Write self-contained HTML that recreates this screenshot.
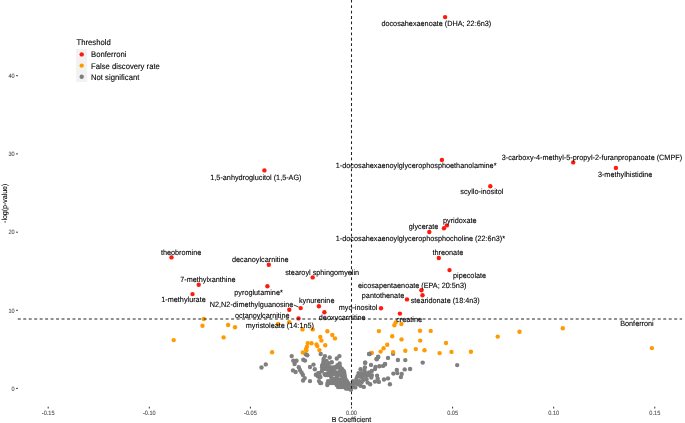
<!DOCTYPE html>
<html><head><meta charset="utf-8"><title>Volcano plot</title>
<style>
html,body{margin:0;padding:0;background:#fff;}
svg{display:block;font-family:"Liberation Sans",sans-serif;text-rendering:geometricPrecision;}
.lab{font-size:7.63px;fill:#000;stroke:#000;stroke-width:0.1px;}
.tick{font-size:6.27px;fill:#4d4d4d;stroke:#4d4d4d;stroke-width:0.1px;}
.leg{font-size:8.09px;fill:#000;stroke:#000;stroke-width:0.1px;}
.axt{font-size:7.35px;fill:#000;stroke:#000;stroke-width:0.1px;}
</style></head><body>
<svg width="685" height="423" viewBox="0 0 685 423">
<rect width="685" height="423" fill="#fff"/>
<g>
<circle cx="261.5" cy="367.5" r="2.2" fill="#7f7f7f"/>
<circle cx="265.8" cy="364.4" r="2.2" fill="#7f7f7f"/>
<circle cx="291.7" cy="356.1" r="2.2" fill="#7f7f7f"/>
<circle cx="293.3" cy="360.8" r="2.2" fill="#7f7f7f"/>
<circle cx="296.5" cy="360.8" r="2.2" fill="#7f7f7f"/>
<circle cx="294.6" cy="364.0" r="2.2" fill="#7f7f7f"/>
<circle cx="293.0" cy="370.4" r="2.2" fill="#7f7f7f"/>
<circle cx="295.6" cy="372.0" r="2.2" fill="#7f7f7f"/>
<circle cx="298.8" cy="367.2" r="2.2" fill="#7f7f7f"/>
<circle cx="299.9" cy="369.9" r="2.2" fill="#7f7f7f"/>
<circle cx="301.5" cy="372.5" r="2.2" fill="#7f7f7f"/>
<circle cx="302.9" cy="374.9" r="2.2" fill="#7f7f7f"/>
<circle cx="304.7" cy="378.1" r="2.2" fill="#7f7f7f"/>
<circle cx="303.1" cy="380.5" r="2.2" fill="#7f7f7f"/>
<circle cx="310.0" cy="381.1" r="2.2" fill="#7f7f7f"/>
<circle cx="303.3" cy="359.8" r="2.2" fill="#7f7f7f"/>
<circle cx="305.0" cy="360.6" r="2.2" fill="#7f7f7f"/>
<circle cx="305.7" cy="354.2" r="2.2" fill="#7f7f7f"/>
<circle cx="307.3" cy="355.3" r="2.2" fill="#7f7f7f"/>
<circle cx="310.0" cy="367.0" r="2.2" fill="#7f7f7f"/>
<circle cx="313.5" cy="364.6" r="2.2" fill="#7f7f7f"/>
<circle cx="314.8" cy="369.3" r="2.2" fill="#7f7f7f"/>
<circle cx="315.9" cy="374.7" r="2.2" fill="#7f7f7f"/>
<circle cx="318.0" cy="376.3" r="2.2" fill="#7f7f7f"/>
<circle cx="369.4" cy="353.9" r="2.2" fill="#7f7f7f"/>
<circle cx="393.1" cy="353.8" r="2.2" fill="#7f7f7f"/>
<circle cx="378.2" cy="356.8" r="2.2" fill="#7f7f7f"/>
<circle cx="376.6" cy="358.9" r="2.2" fill="#7f7f7f"/>
<circle cx="388.0" cy="357.9" r="2.2" fill="#7f7f7f"/>
<circle cx="397.9" cy="360.0" r="2.2" fill="#7f7f7f"/>
<circle cx="365.2" cy="362.8" r="2.2" fill="#7f7f7f"/>
<circle cx="371.0" cy="364.9" r="2.2" fill="#7f7f7f"/>
<circle cx="385.1" cy="364.0" r="2.2" fill="#7f7f7f"/>
<circle cx="383.0" cy="365.9" r="2.2" fill="#7f7f7f"/>
<circle cx="379.3" cy="366.2" r="2.2" fill="#7f7f7f"/>
<circle cx="375.5" cy="367.0" r="2.2" fill="#7f7f7f"/>
<circle cx="375.0" cy="369.1" r="2.2" fill="#7f7f7f"/>
<circle cx="364.9" cy="367.4" r="2.2" fill="#7f7f7f"/>
<circle cx="360.6" cy="369.3" r="2.2" fill="#7f7f7f"/>
<circle cx="364.4" cy="370.4" r="2.2" fill="#7f7f7f"/>
<circle cx="358.5" cy="373.1" r="2.2" fill="#7f7f7f"/>
<circle cx="371.8" cy="370.9" r="2.2" fill="#7f7f7f"/>
<circle cx="369.1" cy="372.5" r="2.2" fill="#7f7f7f"/>
<circle cx="366.0" cy="373.1" r="2.2" fill="#7f7f7f"/>
<circle cx="365.4" cy="375.7" r="2.2" fill="#7f7f7f"/>
<circle cx="371.8" cy="375.2" r="2.2" fill="#7f7f7f"/>
<circle cx="371.3" cy="377.6" r="2.2" fill="#7f7f7f"/>
<circle cx="377.1" cy="375.7" r="2.2" fill="#7f7f7f"/>
<circle cx="377.7" cy="378.7" r="2.2" fill="#7f7f7f"/>
<circle cx="375.0" cy="381.6" r="2.2" fill="#7f7f7f"/>
<circle cx="378.9" cy="381.9" r="2.2" fill="#7f7f7f"/>
<circle cx="384.0" cy="379.5" r="2.2" fill="#7f7f7f"/>
<circle cx="388.0" cy="378.4" r="2.2" fill="#7f7f7f"/>
<circle cx="389.9" cy="384.2" r="2.2" fill="#7f7f7f"/>
<circle cx="393.4" cy="373.6" r="2.2" fill="#7f7f7f"/>
<circle cx="396.8" cy="369.9" r="2.2" fill="#7f7f7f"/>
<circle cx="397.3" cy="373.1" r="2.2" fill="#7f7f7f"/>
<circle cx="356.4" cy="378.9" r="2.2" fill="#7f7f7f"/>
<circle cx="362.2" cy="377.3" r="2.2" fill="#7f7f7f"/>
<circle cx="359.6" cy="381.1" r="2.2" fill="#7f7f7f"/>
<circle cx="363.3" cy="380.0" r="2.2" fill="#7f7f7f"/>
<circle cx="367.6" cy="382.6" r="2.2" fill="#7f7f7f"/>
<circle cx="370.2" cy="384.2" r="2.2" fill="#7f7f7f"/>
<circle cx="354.8" cy="383.2" r="2.2" fill="#7f7f7f"/>
<circle cx="358.0" cy="384.2" r="2.2" fill="#7f7f7f"/>
<circle cx="360.6" cy="385.8" r="2.2" fill="#7f7f7f"/>
<circle cx="363.8" cy="386.9" r="2.2" fill="#7f7f7f"/>
<circle cx="352.1" cy="386.9" r="2.2" fill="#7f7f7f"/>
<circle cx="355.3" cy="387.4" r="2.2" fill="#7f7f7f"/>
<circle cx="405.3" cy="360.1" r="2.2" fill="#7f7f7f"/>
<circle cx="422.7" cy="362.6" r="2.2" fill="#7f7f7f"/>
<circle cx="457.2" cy="365.1" r="2.2" fill="#7f7f7f"/>
<circle cx="404.7" cy="369.4" r="2.2" fill="#7f7f7f"/>
<circle cx="410.1" cy="369.0" r="2.2" fill="#7f7f7f"/>
<circle cx="401.7" cy="373.9" r="2.2" fill="#7f7f7f"/>
<circle cx="400.9" cy="377.1" r="2.2" fill="#7f7f7f"/>
<circle cx="376.7" cy="359.2" r="2.2" fill="#7f7f7f"/>
<circle cx="378.0" cy="357.2" r="2.2" fill="#7f7f7f"/>
<circle cx="369.4" cy="354.0" r="2.2" fill="#7f7f7f"/>
<circle cx="365.1" cy="362.8" r="2.2" fill="#7f7f7f"/>
<circle cx="384.8" cy="364.5" r="2.2" fill="#7f7f7f"/>
<circle cx="320.7" cy="354.0" r="2.2" fill="#7f7f7f"/>
<circle cx="324.9" cy="356.1" r="2.2" fill="#7f7f7f"/>
<circle cx="329.7" cy="357.5" r="2.2" fill="#7f7f7f"/>
<circle cx="339.4" cy="356.1" r="2.2" fill="#7f7f7f"/>
<circle cx="336.8" cy="358.5" r="2.2" fill="#7f7f7f"/>
<circle cx="323.6" cy="359.0" r="2.2" fill="#7f7f7f"/>
<circle cx="323.4" cy="361.7" r="2.2" fill="#7f7f7f"/>
<circle cx="323.1" cy="364.3" r="2.2" fill="#7f7f7f"/>
<circle cx="331.8" cy="362.2" r="2.2" fill="#7f7f7f"/>
<circle cx="328.9" cy="363.2" r="2.2" fill="#7f7f7f"/>
<circle cx="326.5" cy="360.9" r="2.2" fill="#7f7f7f"/>
<circle cx="339.6" cy="363.5" r="2.2" fill="#7f7f7f"/>
<circle cx="338.9" cy="365.6" r="2.2" fill="#7f7f7f"/>
<circle cx="336.8" cy="367.4" r="2.2" fill="#7f7f7f"/>
<circle cx="322.8" cy="367.2" r="2.2" fill="#7f7f7f"/>
<circle cx="322.2" cy="365.2" r="2.2" fill="#7f7f7f"/>
<circle cx="324.1" cy="364.4" r="2.2" fill="#7f7f7f"/>
<circle cx="326.4" cy="365.2" r="2.2" fill="#7f7f7f"/>
<circle cx="337.4" cy="365.2" r="2.2" fill="#7f7f7f"/>
<circle cx="339.3" cy="365.2" r="2.2" fill="#7f7f7f"/>
<circle cx="322.1" cy="367.2" r="2.2" fill="#7f7f7f"/>
<circle cx="327.8" cy="367.2" r="2.2" fill="#7f7f7f"/>
<circle cx="329.9" cy="367.2" r="2.2" fill="#7f7f7f"/>
<circle cx="331.9" cy="367.6" r="2.2" fill="#7f7f7f"/>
<circle cx="334.1" cy="367.2" r="2.2" fill="#7f7f7f"/>
<circle cx="336.1" cy="367.2" r="2.2" fill="#7f7f7f"/>
<circle cx="338.2" cy="367.2" r="2.2" fill="#7f7f7f"/>
<circle cx="340.3" cy="367.2" r="2.2" fill="#7f7f7f"/>
<circle cx="322.5" cy="369.2" r="2.2" fill="#7f7f7f"/>
<circle cx="324.4" cy="368.8" r="2.2" fill="#7f7f7f"/>
<circle cx="326.8" cy="369.1" r="2.2" fill="#7f7f7f"/>
<circle cx="328.8" cy="369.2" r="2.2" fill="#7f7f7f"/>
<circle cx="330.9" cy="369.2" r="2.2" fill="#7f7f7f"/>
<circle cx="333.0" cy="369.2" r="2.2" fill="#7f7f7f"/>
<circle cx="341.0" cy="369.2" r="2.2" fill="#7f7f7f"/>
<circle cx="342.3" cy="369.2" r="2.2" fill="#7f7f7f"/>
<circle cx="321.8" cy="371.2" r="2.2" fill="#7f7f7f"/>
<circle cx="329.8" cy="371.2" r="2.2" fill="#7f7f7f"/>
<circle cx="332.1" cy="371.2" r="2.2" fill="#7f7f7f"/>
<circle cx="334.5" cy="371.2" r="2.2" fill="#7f7f7f"/>
<circle cx="336.5" cy="372.6" r="2.2" fill="#7f7f7f"/>
<circle cx="339.6" cy="371.4" r="2.2" fill="#7f7f7f"/>
<circle cx="341.6" cy="371.2" r="2.2" fill="#7f7f7f"/>
<circle cx="343.9" cy="371.2" r="2.2" fill="#7f7f7f"/>
<circle cx="318.2" cy="373.1" r="2.2" fill="#7f7f7f"/>
<circle cx="319.1" cy="373.1" r="2.2" fill="#7f7f7f"/>
<circle cx="324.7" cy="374.2" r="2.2" fill="#7f7f7f"/>
<circle cx="327.3" cy="373.5" r="2.2" fill="#7f7f7f"/>
<circle cx="329.1" cy="373.1" r="2.2" fill="#7f7f7f"/>
<circle cx="331.3" cy="373.1" r="2.2" fill="#7f7f7f"/>
<circle cx="333.5" cy="373.1" r="2.2" fill="#7f7f7f"/>
<circle cx="335.6" cy="373.1" r="2.2" fill="#7f7f7f"/>
<circle cx="337.8" cy="373.1" r="2.2" fill="#7f7f7f"/>
<circle cx="340.0" cy="373.1" r="2.2" fill="#7f7f7f"/>
<circle cx="342.1" cy="373.1" r="2.2" fill="#7f7f7f"/>
<circle cx="344.3" cy="373.1" r="2.2" fill="#7f7f7f"/>
<circle cx="318.2" cy="375.1" r="2.2" fill="#7f7f7f"/>
<circle cx="319.4" cy="375.1" r="2.2" fill="#7f7f7f"/>
<circle cx="325.5" cy="375.1" r="2.2" fill="#7f7f7f"/>
<circle cx="327.6" cy="375.1" r="2.2" fill="#7f7f7f"/>
<circle cx="329.7" cy="375.1" r="2.2" fill="#7f7f7f"/>
<circle cx="331.7" cy="375.0" r="2.2" fill="#7f7f7f"/>
<circle cx="334.1" cy="373.8" r="2.2" fill="#7f7f7f"/>
<circle cx="336.2" cy="375.1" r="2.2" fill="#7f7f7f"/>
<circle cx="338.1" cy="374.9" r="2.2" fill="#7f7f7f"/>
<circle cx="340.5" cy="374.7" r="2.2" fill="#7f7f7f"/>
<circle cx="342.5" cy="375.1" r="2.2" fill="#7f7f7f"/>
<circle cx="344.6" cy="375.1" r="2.2" fill="#7f7f7f"/>
<circle cx="319.5" cy="377.1" r="2.2" fill="#7f7f7f"/>
<circle cx="320.4" cy="377.1" r="2.2" fill="#7f7f7f"/>
<circle cx="331.3" cy="377.2" r="2.2" fill="#7f7f7f"/>
<circle cx="336.9" cy="377.1" r="2.2" fill="#7f7f7f"/>
<circle cx="342.7" cy="377.1" r="2.2" fill="#7f7f7f"/>
<circle cx="344.9" cy="377.1" r="2.2" fill="#7f7f7f"/>
<circle cx="332.4" cy="379.1" r="2.2" fill="#7f7f7f"/>
<circle cx="334.6" cy="379.1" r="2.2" fill="#7f7f7f"/>
<circle cx="336.8" cy="379.1" r="2.2" fill="#7f7f7f"/>
<circle cx="338.9" cy="379.7" r="2.2" fill="#7f7f7f"/>
<circle cx="341.2" cy="379.1" r="2.2" fill="#7f7f7f"/>
<circle cx="343.4" cy="379.1" r="2.2" fill="#7f7f7f"/>
<circle cx="345.6" cy="379.1" r="2.2" fill="#7f7f7f"/>
<circle cx="319.0" cy="381.1" r="2.2" fill="#7f7f7f"/>
<circle cx="328.1" cy="381.1" r="2.2" fill="#7f7f7f"/>
<circle cx="330.5" cy="381.1" r="2.2" fill="#7f7f7f"/>
<circle cx="332.8" cy="381.1" r="2.2" fill="#7f7f7f"/>
<circle cx="335.2" cy="381.1" r="2.2" fill="#7f7f7f"/>
<circle cx="337.5" cy="381.1" r="2.2" fill="#7f7f7f"/>
<circle cx="339.9" cy="381.1" r="2.2" fill="#7f7f7f"/>
<circle cx="342.2" cy="381.1" r="2.2" fill="#7f7f7f"/>
<circle cx="344.6" cy="381.1" r="2.2" fill="#7f7f7f"/>
<circle cx="346.9" cy="381.1" r="2.2" fill="#7f7f7f"/>
<circle cx="320.2" cy="383.1" r="2.2" fill="#7f7f7f"/>
<circle cx="321.1" cy="383.1" r="2.2" fill="#7f7f7f"/>
<circle cx="327.5" cy="383.1" r="2.2" fill="#7f7f7f"/>
<circle cx="329.8" cy="383.1" r="2.2" fill="#7f7f7f"/>
<circle cx="332.1" cy="383.1" r="2.2" fill="#7f7f7f"/>
<circle cx="334.4" cy="383.1" r="2.2" fill="#7f7f7f"/>
<circle cx="336.7" cy="383.1" r="2.2" fill="#7f7f7f"/>
<circle cx="339.0" cy="383.1" r="2.2" fill="#7f7f7f"/>
<circle cx="341.3" cy="383.1" r="2.2" fill="#7f7f7f"/>
<circle cx="343.6" cy="383.1" r="2.2" fill="#7f7f7f"/>
<circle cx="345.9" cy="383.1" r="2.2" fill="#7f7f7f"/>
<circle cx="348.3" cy="383.1" r="2.2" fill="#7f7f7f"/>
<circle cx="327.3" cy="385.1" r="2.2" fill="#7f7f7f"/>
<circle cx="336.7" cy="385.1" r="2.2" fill="#7f7f7f"/>
<circle cx="338.9" cy="385.1" r="2.2" fill="#7f7f7f"/>
<circle cx="341.1" cy="385.1" r="2.2" fill="#7f7f7f"/>
<circle cx="343.3" cy="385.1" r="2.2" fill="#7f7f7f"/>
<circle cx="345.5" cy="385.1" r="2.2" fill="#7f7f7f"/>
<circle cx="347.7" cy="385.1" r="2.2" fill="#7f7f7f"/>
<circle cx="349.9" cy="385.1" r="2.2" fill="#7f7f7f"/>
<circle cx="338.1" cy="387.0" r="2.2" fill="#7f7f7f"/>
<circle cx="340.4" cy="387.0" r="2.2" fill="#7f7f7f"/>
<circle cx="342.8" cy="387.0" r="2.2" fill="#7f7f7f"/>
<circle cx="345.2" cy="387.0" r="2.2" fill="#7f7f7f"/>
<circle cx="347.5" cy="387.0" r="2.2" fill="#7f7f7f"/>
<circle cx="349.9" cy="387.0" r="2.2" fill="#7f7f7f"/>
<circle cx="346.0" cy="388.6" r="2.2" fill="#7f7f7f"/>
<circle cx="347.6" cy="388.6" r="2.2" fill="#7f7f7f"/>
<circle cx="349.3" cy="388.6" r="2.2" fill="#7f7f7f"/>
<circle cx="350.9" cy="388.6" r="2.2" fill="#7f7f7f"/>
<circle cx="350.6" cy="389.4" r="2.2" fill="#7f7f7f"/>
<circle cx="350.9" cy="389.4" r="2.2" fill="#7f7f7f"/>
<circle cx="360.6" cy="376.8" r="2.2" fill="#7f7f7f"/>
<circle cx="363.8" cy="374.1" r="2.2" fill="#7f7f7f"/>
<circle cx="368.1" cy="375.2" r="2.2" fill="#7f7f7f"/>
<circle cx="353.2" cy="384.2" r="2.2" fill="#7f7f7f"/>
<circle cx="356.4" cy="382.1" r="2.2" fill="#7f7f7f"/>
<circle cx="361.7" cy="382.1" r="2.2" fill="#7f7f7f"/>
<circle cx="353.0" cy="381.2" r="2.2" fill="#7f7f7f"/>
<circle cx="357.5" cy="376.2" r="2.2" fill="#7f7f7f"/>
<circle cx="361.5" cy="373.2" r="2.2" fill="#7f7f7f"/>
<circle cx="366.5" cy="379.2" r="2.2" fill="#7f7f7f"/>
<circle cx="203.8" cy="319.0" r="2.2" fill="#ff9a00"/>
<circle cx="202.5" cy="325.8" r="2.2" fill="#ff9a00"/>
<circle cx="228.1" cy="325.0" r="2.2" fill="#ff9a00"/>
<circle cx="235.0" cy="327.2" r="2.2" fill="#ff9a00"/>
<circle cx="223.6" cy="337.4" r="2.2" fill="#ff9a00"/>
<circle cx="173.7" cy="340.1" r="2.2" fill="#ff9a00"/>
<circle cx="272.1" cy="352.3" r="2.2" fill="#ff9a00"/>
<circle cx="278.1" cy="324.0" r="2.2" fill="#ff9a00"/>
<circle cx="289.2" cy="322.1" r="2.2" fill="#ff9a00"/>
<circle cx="302.5" cy="329.4" r="2.2" fill="#ff9a00"/>
<circle cx="312.7" cy="329.4" r="2.2" fill="#ff9a00"/>
<circle cx="327.4" cy="331.2" r="2.2" fill="#ff9a00"/>
<circle cx="332.3" cy="335.0" r="2.2" fill="#ff9a00"/>
<circle cx="335.0" cy="338.4" r="2.2" fill="#ff9a00"/>
<circle cx="320.3" cy="336.9" r="2.2" fill="#ff9a00"/>
<circle cx="321.4" cy="340.6" r="2.2" fill="#ff9a00"/>
<circle cx="307.7" cy="343.1" r="2.2" fill="#ff9a00"/>
<circle cx="311.5" cy="343.2" r="2.2" fill="#ff9a00"/>
<circle cx="316.5" cy="344.4" r="2.2" fill="#ff9a00"/>
<circle cx="317.3" cy="346.1" r="2.2" fill="#ff9a00"/>
<circle cx="325.2" cy="345.2" r="2.2" fill="#ff9a00"/>
<circle cx="306.9" cy="346.7" r="2.2" fill="#ff9a00"/>
<circle cx="306.1" cy="349.0" r="2.2" fill="#ff9a00"/>
<circle cx="306.4" cy="350.4" r="2.2" fill="#ff9a00"/>
<circle cx="319.4" cy="350.1" r="2.2" fill="#ff9a00"/>
<circle cx="302.8" cy="352.4" r="2.2" fill="#ff9a00"/>
<circle cx="395.7" cy="322.4" r="2.2" fill="#ff9a00"/>
<circle cx="394.4" cy="325.3" r="2.2" fill="#ff9a00"/>
<circle cx="401.4" cy="324.0" r="2.2" fill="#ff9a00"/>
<circle cx="378.9" cy="331.1" r="2.2" fill="#ff9a00"/>
<circle cx="392.2" cy="336.2" r="2.2" fill="#ff9a00"/>
<circle cx="401.5" cy="339.4" r="2.2" fill="#ff9a00"/>
<circle cx="420.0" cy="330.7" r="2.2" fill="#ff9a00"/>
<circle cx="430.7" cy="330.9" r="2.2" fill="#ff9a00"/>
<circle cx="420.2" cy="340.6" r="2.2" fill="#ff9a00"/>
<circle cx="387.2" cy="344.8" r="2.2" fill="#ff9a00"/>
<circle cx="383.6" cy="348.2" r="2.2" fill="#ff9a00"/>
<circle cx="380.6" cy="351.6" r="2.2" fill="#ff9a00"/>
<circle cx="371.8" cy="352.9" r="2.2" fill="#ff9a00"/>
<circle cx="393.1" cy="352.1" r="2.2" fill="#ff9a00"/>
<circle cx="405.3" cy="350.8" r="2.2" fill="#ff9a00"/>
<circle cx="415.8" cy="349.1" r="2.2" fill="#ff9a00"/>
<circle cx="424.5" cy="350.3" r="2.2" fill="#ff9a00"/>
<circle cx="439.6" cy="353.1" r="2.2" fill="#ff9a00"/>
<circle cx="446.0" cy="343.0" r="2.2" fill="#ff9a00"/>
<circle cx="451.5" cy="351.9" r="2.2" fill="#ff9a00"/>
<circle cx="470.9" cy="351.8" r="2.2" fill="#ff9a00"/>
<circle cx="497.7" cy="336.6" r="2.2" fill="#ff9a00"/>
<circle cx="519.5" cy="331.7" r="2.2" fill="#ff9a00"/>
<circle cx="562.8" cy="328.3" r="2.2" fill="#ff9a00"/>
<circle cx="651.9" cy="348.1" r="2.2" fill="#ff9a00"/>
<circle cx="369.4" cy="353.9" r="2.2" fill="#7f7f7f"/>
<circle cx="369.4" cy="354.0" r="2.2" fill="#7f7f7f"/>
<circle cx="445.1" cy="17.1" r="2.2" fill="#ff1a0d"/>
<circle cx="264.4" cy="170.4" r="2.2" fill="#ff1a0d"/>
<circle cx="441.9" cy="159.9" r="2.2" fill="#ff1a0d"/>
<circle cx="490.3" cy="186.2" r="2.2" fill="#ff1a0d"/>
<circle cx="573.2" cy="162.4" r="2.2" fill="#ff1a0d"/>
<circle cx="615.9" cy="167.9" r="2.2" fill="#ff1a0d"/>
<circle cx="446.9" cy="225.4" r="2.2" fill="#ff1a0d"/>
<circle cx="444.0" cy="228.3" r="2.2" fill="#ff1a0d"/>
<circle cx="429.3" cy="232.0" r="2.2" fill="#ff1a0d"/>
<circle cx="438.8" cy="258.0" r="2.2" fill="#ff1a0d"/>
<circle cx="449.5" cy="270.1" r="2.2" fill="#ff1a0d"/>
<circle cx="421.4" cy="290.2" r="2.2" fill="#ff1a0d"/>
<circle cx="422.5" cy="295.2" r="2.2" fill="#ff1a0d"/>
<circle cx="407.0" cy="299.4" r="2.2" fill="#ff1a0d"/>
<circle cx="381.0" cy="308.3" r="2.2" fill="#ff1a0d"/>
<circle cx="399.9" cy="313.6" r="2.2" fill="#ff1a0d"/>
<circle cx="171.5" cy="257.4" r="2.2" fill="#ff1a0d"/>
<circle cx="268.8" cy="264.8" r="2.2" fill="#ff1a0d"/>
<circle cx="198.7" cy="284.8" r="2.2" fill="#ff1a0d"/>
<circle cx="267.4" cy="286.3" r="2.2" fill="#ff1a0d"/>
<circle cx="192.5" cy="294.1" r="2.2" fill="#ff1a0d"/>
<circle cx="300.7" cy="308.1" r="2.2" fill="#ff1a0d"/>
<circle cx="289.3" cy="309.8" r="2.2" fill="#ff1a0d"/>
<circle cx="298.5" cy="318.4" r="2.2" fill="#ff1a0d"/>
<circle cx="312.7" cy="277.4" r="2.2" fill="#ff1a0d"/>
<circle cx="318.9" cy="306.3" r="2.2" fill="#ff1a0d"/>
<circle cx="324.4" cy="312.3" r="2.2" fill="#ff1a0d"/>
</g>
<line x1="17.8" y1="318.9" x2="682.1" y2="318.9" stroke="#222" stroke-width="1.05" stroke-dasharray="2.95 2.52"/>
<line x1="351.5" y1="-0.25" x2="351.5" y2="406.7" stroke="#222" stroke-width="1.05" stroke-dasharray="2.84 2.60"/>
<line x1="293.8" y1="305.0" x2="298.6" y2="307.0" stroke="#111" stroke-width="0.8"/>
<g class="lab">
<text transform="translate(381.4,25.7) scale(0.9524,1)">docosahexaenoate (DHA; 22:6n3)</text>
<text transform="translate(210.3,179.5) scale(0.9524,1)">1,5-anhydroglucitol (1,5-AG)</text>
<text transform="translate(335.8,168.1) scale(0.9524,1)">1-docosahexaenoylglycerophosphoethanolamine*</text>
<text transform="translate(460.3,194.4) scale(0.9524,1)">scyllo-inositol</text>
<text transform="translate(501.7,160.2) scale(0.9524,1)">3-carboxy-4-methyl-5-propyl-2-furanpropanoate (CMPF)</text>
<text transform="translate(597.9,176.6) scale(0.9524,1)">3-methylhistidine</text>
<text transform="translate(443.0,222.6) scale(0.9524,1)">pyridoxate</text>
<text transform="translate(408.8,229.1) scale(0.9524,1)">glycerate</text>
<text transform="translate(335.8,240.7) scale(0.9524,1)">1-docosahexaenoylglycerophosphocholine (22:6n3)*</text>
<text transform="translate(432.5,255.4) scale(0.9524,1)">threonate</text>
<text transform="translate(453.0,277.8) scale(0.9524,1)">pipecolate</text>
<text transform="translate(357.9,287.5) scale(0.9524,1)">eicosapentaenoate (EPA; 20:5n3)</text>
<text transform="translate(361.8,298.1) scale(0.9524,1)">pantothenate</text>
<text transform="translate(410.7,303.1) scale(0.9524,1)">stearidonate (18:4n3)</text>
<text transform="translate(338.7,310.4) scale(0.9524,1)">myo-inositol</text>
<text transform="translate(396.2,321.7) scale(0.9524,1)">creatine</text>
<text transform="translate(160.9,254.7) scale(0.9524,1)">theobromine</text>
<text transform="translate(232.0,261.8) scale(0.9524,1)">decanoylcarnitine</text>
<text transform="translate(180.2,281.6) scale(0.9524,1)">7-methylxanthine</text>
<text transform="translate(234.3,294.6) scale(0.9524,1)">pyroglutamine*</text>
<text transform="translate(161.3,302.4) scale(0.9524,1)">1-methylurate</text>
<text transform="translate(209.8,306.6) scale(0.9524,1)">N2,N2-dimethylguanosine</text>
<text transform="translate(235.0,318.0) scale(0.9524,1)">octanoylcarnitine</text>
<text transform="translate(245.7,327.7) scale(0.9524,1)">myristoleate (14:1n5)</text>
<text transform="translate(285.2,274.6) scale(0.9524,1)">stearoyl sphingomyelin</text>
<text transform="translate(298.9,303.1) scale(0.9524,1)">kynurenine</text>
<text transform="translate(318.8,320.4) scale(0.9524,1)">deoxycarnitine</text>
<text transform="translate(620.2,325.9) scale(0.9524,1)">Bonferroni</text>
</g>
<g class="tick" text-anchor="end">
<text transform="translate(14.7,390.6) scale(0.8929,1)">0</text>
<text transform="translate(14.7,312.6) scale(0.8929,1)">10</text>
<text transform="translate(14.7,234.4) scale(0.8929,1)">20</text>
<text transform="translate(14.7,156.2) scale(0.8929,1)">30</text>
<text transform="translate(14.7,78.0) scale(0.8929,1)">40</text>
</g>
<g stroke="#333" stroke-width="1">
<line x1="16.1" y1="388.4" x2="17.9" y2="388.4"/>
<line x1="16.1" y1="310.3" x2="17.9" y2="310.3"/>
<line x1="16.1" y1="232.2" x2="17.9" y2="232.2"/>
<line x1="16.1" y1="153.9" x2="17.9" y2="153.9"/>
<line x1="16.1" y1="75.7" x2="17.9" y2="75.7"/>
<line x1="48.2" y1="406.7" x2="48.2" y2="408.5"/>
<line x1="149.3" y1="406.7" x2="149.3" y2="408.5"/>
<line x1="250.4" y1="406.7" x2="250.4" y2="408.5"/>
<line x1="351.5" y1="406.7" x2="351.5" y2="408.5"/>
<line x1="452.6" y1="406.7" x2="452.6" y2="408.5"/>
<line x1="553.7" y1="406.7" x2="553.7" y2="408.5"/>
<line x1="654.8" y1="406.7" x2="654.8" y2="408.5"/>
</g>
<g class="tick" text-anchor="middle">
<text transform="translate(48.2,414.6) scale(0.8929,1)">-0.15</text>
<text transform="translate(149.3,414.6) scale(0.8929,1)">-0.10</text>
<text transform="translate(250.4,414.6) scale(0.8929,1)">-0.05</text>
<text transform="translate(351.5,414.6) scale(0.8929,1)">0.00</text>
<text transform="translate(452.6,414.6) scale(0.8929,1)">0.05</text>
<text transform="translate(553.7,414.6) scale(0.8929,1)">0.10</text>
<text transform="translate(654.8,414.6) scale(0.8929,1)">0.15</text>
</g>
<text class="axt" text-anchor="middle" transform="translate(351.4,422.2) scale(0.9524,1)">B Coefficient</text>
<text class="axt" transform="translate(6.5,203.3) rotate(-90) scale(0.9524,1)" text-anchor="middle">-log(p-value)</text>
<text class="leg" transform="translate(76.4,44.7) scale(0.9524,1)" style="font-size:8.14px">Threshold</text>
<rect x="76.1" y="48.9" width="11.1" height="33.1" fill="#f2f2f2"/>
<circle cx="81.7" cy="54.4" r="2.2" fill="#ff1a0d"/>
<text class="leg" transform="translate(91.0,57.3) scale(0.9524,1)">Bonferroni</text>
<circle cx="81.7" cy="65.6" r="2.2" fill="#ff9a00"/>
<text class="leg" transform="translate(91.0,68.5) scale(0.9524,1)">False discovery rate</text>
<circle cx="81.7" cy="76.8" r="2.2" fill="#7f7f7f"/>
<text class="leg" transform="translate(91.0,79.6) scale(0.9524,1)">Not significant</text>
</svg></body></html>
